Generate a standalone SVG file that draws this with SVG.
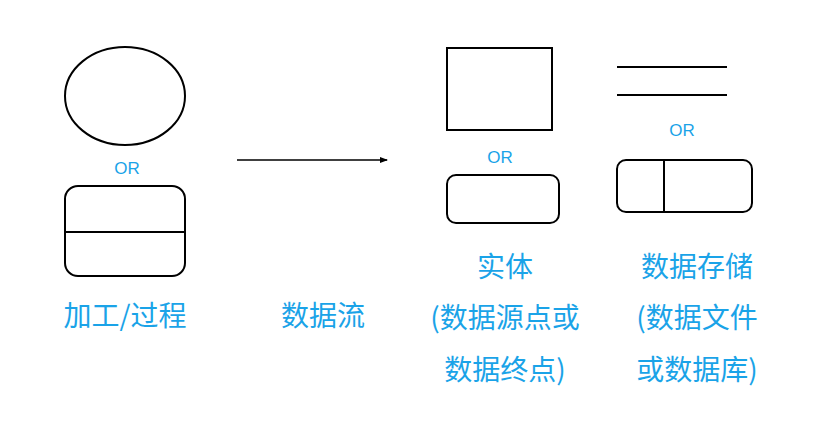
<svg xmlns="http://www.w3.org/2000/svg" width="830" height="428" viewBox="0 0 830 428">
<defs>
<style>
.s{fill:none;stroke:#000;stroke-width:2}
.or{font-family:"Liberation Sans","Noto Sans CJK SC",sans-serif;font-size:17px;fill:#1aa3e8;text-anchor:middle}
.t{font-family:"Noto Sans CJK SC",sans-serif;font-size:28px;fill:#1aa3e8;text-anchor:middle}
</style>
<marker id="ah" markerWidth="8" markerHeight="8" refX="7" refY="4" orient="auto" markerUnits="userSpaceOnUse">
<path d="M0,1 L8,4 L0,7 z" fill="#000"/>
</marker>
</defs>
<rect width="830" height="428" fill="#fff"/>
<g id="process">
<ellipse class="s" cx="125" cy="96" rx="60" ry="49"/>
<text class="or" x="127" y="174">OR</text>
<rect class="s" x="65" y="186" width="120" height="90" rx="13"/>
<line class="s" x1="65" y1="232" x2="185" y2="232"/>
<text class="t" x="125" y="326">加工/过程</text>
</g>
<g id="connectors">
<line x1="237" y1="160" x2="387" y2="160" stroke="#000" stroke-width="1.5" marker-end="url(#ah)"/>
</g>
<g id="flow">
<text class="t" x="323" y="326">数据流</text>
</g>
<g id="entity">
<rect class="s" x="447" y="48" width="105" height="82"/>
<text class="or" x="500" y="163">OR</text>
<rect class="s" x="447" y="175" width="112" height="48" rx="9"/>
<text class="t" x="505" y="277">实体</text>
<text class="t" x="505" y="328">(数据源点或</text>
<text class="t" x="505" y="380">数据终点)</text>
</g>
<g id="store">
<line class="s" x1="617" y1="67" x2="727" y2="67"/>
<line class="s" x1="617" y1="95" x2="727" y2="95"/>
<text class="or" x="682" y="136">OR</text>
<rect class="s" x="617" y="160" width="135" height="52" rx="9"/>
<line class="s" x1="664" y1="160" x2="664" y2="212"/>
<text class="t" x="697" y="277">数据存储</text>
<text class="t" x="697" y="328">(数据文件</text>
<text class="t" x="697" y="380">或数据库)</text>
</g>
</svg>
